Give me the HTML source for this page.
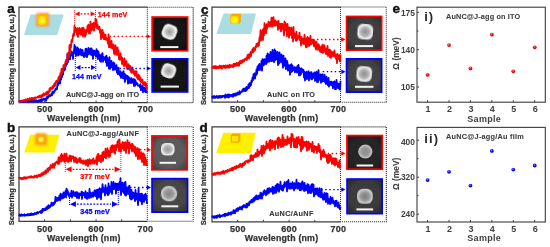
<!DOCTYPE html>
<html><head><meta charset="utf-8"><style>
html,body{margin:0;padding:0;background:#fff;width:550px;height:247px;overflow:hidden}
svg{display:block}
</style></head><body><svg width="550" height="247" viewBox="0 0 550 247" font-family="'Liberation Sans', Arial, sans-serif"><defs>
<filter id="soft" x="-30%" y="-30%" width="160%" height="160%"><feGaussianBlur stdDeviation="0.45"/></filter>
<filter id="glow" x="-50%" y="-50%" width="200%" height="200%"><feGaussianBlur stdDeviation="1.1"/></filter>
<filter id="nz" x="0" y="0" width="100%" height="100%"><feTurbulence type="fractalNoise" baseFrequency="0.9" numOctaves="1" seed="3"/><feColorMatrix type="saturate" values="0"/></filter>
<pattern id="noise" width="40" height="40" patternUnits="userSpaceOnUse"><rect width="40" height="40" filter="url(#nz)"/></pattern>
<radialGradient id="vig" cx="50%" cy="50%" r="70%"><stop offset="0.6" stop-color="#000" stop-opacity="0"/><stop offset="1" stop-color="#000" stop-opacity="0.35"/></radialGradient>
<radialGradient id="ybl"><stop offset="0" stop-color="#ffff40"/><stop offset="0.55" stop-color="#ffee20"/><stop offset="1" stop-color="#ffd020" stop-opacity="0"/></radialGradient>
<radialGradient id="dr" cx="40%" cy="35%" r="65%"><stop offset="0" stop-color="#ff9090"/><stop offset="0.45" stop-color="#ff1010"/><stop offset="1" stop-color="#d00000"/></radialGradient>
<radialGradient id="db" cx="40%" cy="35%" r="65%"><stop offset="0" stop-color="#9090ff"/><stop offset="0.45" stop-color="#1010ff"/><stop offset="1" stop-color="#0000c8"/></radialGradient>
<radialGradient id="cubeY" cx="50%" cy="55%" r="60%"><stop offset="0" stop-color="#ffff30"/><stop offset="0.5" stop-color="#fff000"/><stop offset="1" stop-color="#ffc000"/></radialGradient>
</defs><polyline points="147.3,7.2 19,7.2 19,102.6 147.3,102.6" fill="none" stroke="#3c3c3c" stroke-width="1.25"/><polyline points="147.3,7.2 193.2,7.2 193.2,102.6 147.3,102.6" fill="none" stroke="#333" stroke-width="1.1" stroke-dasharray="1.1 0.9"/><line x1="147.3" y1="7.2" x2="147.3" y2="102.6" stroke="#333" stroke-width="1.0" stroke-dasharray="1.1 0.9"/><line x1="44.6" y1="102.6" x2="44.6" y2="100.6" stroke="#3c3c3c" stroke-width="1"/><line x1="70.4" y1="102.6" x2="70.4" y2="100.6" stroke="#3c3c3c" stroke-width="1"/><line x1="96.1" y1="102.6" x2="96.1" y2="100.6" stroke="#3c3c3c" stroke-width="1"/><line x1="121.7" y1="102.6" x2="121.7" y2="100.6" stroke="#3c3c3c" stroke-width="1"/><polyline points="340.5,7.0 212,7.0 212,102.2 340.5,102.2" fill="none" stroke="#3c3c3c" stroke-width="1.25"/><polyline points="340.5,7.0 386.3,7.0 386.3,102.2 340.5,102.2" fill="none" stroke="#333" stroke-width="1.1" stroke-dasharray="1.1 0.9"/><line x1="340.5" y1="7.0" x2="340.5" y2="102.2" stroke="#333" stroke-width="1.0" stroke-dasharray="1.1 0.9"/><line x1="237.6" y1="102.2" x2="237.6" y2="100.2" stroke="#3c3c3c" stroke-width="1"/><line x1="263.4" y1="102.2" x2="263.4" y2="100.2" stroke="#3c3c3c" stroke-width="1"/><line x1="289.1" y1="102.2" x2="289.1" y2="100.2" stroke="#3c3c3c" stroke-width="1"/><line x1="314.8" y1="102.2" x2="314.8" y2="100.2" stroke="#3c3c3c" stroke-width="1"/><polyline points="147.3,126.8 19,126.8 19,221.3 147.3,221.3" fill="none" stroke="#3c3c3c" stroke-width="1.25"/><polyline points="147.3,126.8 193.2,126.8 193.2,221.3 147.3,221.3" fill="none" stroke="#333" stroke-width="1.1" stroke-dasharray="1.1 0.9"/><line x1="147.3" y1="126.8" x2="147.3" y2="221.3" stroke="#333" stroke-width="1.0" stroke-dasharray="1.1 0.9"/><line x1="44.6" y1="221.3" x2="44.6" y2="219.3" stroke="#3c3c3c" stroke-width="1"/><line x1="70.4" y1="221.3" x2="70.4" y2="219.3" stroke="#3c3c3c" stroke-width="1"/><line x1="96.1" y1="221.3" x2="96.1" y2="219.3" stroke="#3c3c3c" stroke-width="1"/><line x1="121.7" y1="221.3" x2="121.7" y2="219.3" stroke="#3c3c3c" stroke-width="1"/><polyline points="340.5,126.9 212,126.9 212,221.8 340.5,221.8" fill="none" stroke="#3c3c3c" stroke-width="1.25"/><polyline points="340.5,126.9 386.3,126.9 386.3,221.8 340.5,221.8" fill="none" stroke="#333" stroke-width="1.1" stroke-dasharray="1.1 0.9"/><line x1="340.5" y1="126.9" x2="340.5" y2="221.8" stroke="#333" stroke-width="1.0" stroke-dasharray="1.1 0.9"/><line x1="237.6" y1="221.8" x2="237.6" y2="219.8" stroke="#3c3c3c" stroke-width="1"/><line x1="263.4" y1="221.8" x2="263.4" y2="219.8" stroke="#3c3c3c" stroke-width="1"/><line x1="289.1" y1="221.8" x2="289.1" y2="219.8" stroke="#3c3c3c" stroke-width="1"/><line x1="314.8" y1="221.8" x2="314.8" y2="219.8" stroke="#3c3c3c" stroke-width="1"/><polygon points="30.6,14.4 63.6,14.4 57.2,35 24,35" fill="#a9dde1"/><rect x="35.6" y="12.6" width="14.2" height="14.4" rx="2.5" fill="#ff9a50" opacity="0.8" filter="url(#glow)"/><polygon points="38.3,15.8 40.3,13.6 48,13.6 48,22.5 46,24.6 38.3,24.6" fill="#ffb000"/><rect x="38.3" y="15.8" width="7.7" height="8.8" fill="url(#cubeY)"/><polygon points="223.6,13.5 256,13.5 250.9,34.1 216.3,34.1" fill="#a9dde1"/><polygon points="230.5,15.8 232.5,13.8 240.8,13.8 240.8,22 238.8,24 230.5,24" fill="#f5a800"/><rect x="230.5" y="15.8" width="8.3" height="8.2" fill="url(#cubeY)"/><polygon points="30.2,134.7 59.3,134.7 54.5,152.6 24.2,152.6" fill="#fff000"/><rect x="34.8" y="133.1" width="12.4" height="12.5" rx="2.5" fill="#ff9a28" opacity="0.9" filter="url(#glow)"/><rect x="36.2" y="134.4" width="9.8" height="9.9" rx="1.5" fill="#f7a81a"/><circle cx="41" cy="139.4" r="3.6" fill="url(#ybl)"/><polygon points="223.4,132.8 255.8,132.8 251,153.2 216.1,153.2" fill="#fff000"/><polygon points="230.7,135.2 232.5,133.6 240.4,133.6 240.4,141 238.6,142.7 230.7,142.7" fill="#f5a800"/><rect x="232" y="136" width="6.2" height="5.4" fill="#ffe800"/><path d="M19.00,101.64 L19.50,100.97 L20.00,101.90 L20.50,101.25 L21.00,101.34 L21.50,100.64 L22.00,101.92 L22.50,101.09 L23.00,101.71 L23.50,100.74 L24.00,101.87 L24.50,100.72 L25.00,101.53 L25.50,101.16 L26.00,101.02 L26.50,100.55 L27.00,101.65 L27.50,100.21 L28.00,102.07 L28.50,100.60 L29.00,101.49 L29.50,100.85 L30.00,101.42 L30.50,99.94 L31.00,101.21 L31.50,100.48 L32.00,101.50 L32.50,100.29 L33.00,101.71 L33.50,100.78 L34.00,101.37 L34.50,100.88 L35.00,101.21 L35.50,100.19 L36.00,101.53 L36.50,100.23 L37.00,101.28 L37.50,100.94 L38.00,101.71 L38.50,100.32 L39.00,101.07 L39.50,100.15 L40.00,101.13 L40.50,99.74 L41.00,101.33 L41.50,99.05 L42.00,101.05 L42.50,99.59 L43.00,99.69 L43.50,98.67 L44.00,100.00 L44.50,98.66 L45.00,99.09 L45.50,98.85 L46.00,100.98 L46.50,97.21 L47.00,98.74 L47.50,97.03 L48.00,97.73 L48.50,95.66 L49.00,96.24 L49.50,95.04 L50.00,96.20 L50.50,95.27 L51.00,95.25 L51.50,93.56 L52.00,95.40 L52.50,91.66 L53.00,93.44 L53.50,91.58 L54.00,92.76 L54.50,90.70 L55.00,90.82 L55.50,88.64 L56.00,89.75 L56.50,88.23 L57.00,89.04 L57.50,82.21 L58.00,85.31 L58.50,81.55 L59.00,83.47 L59.50,78.42 L60.00,83.60 L60.50,78.10 L61.00,79.67 L61.50,75.11 L62.00,77.18 L62.50,73.27 L63.00,74.60 L63.50,69.93 L64.00,70.64 L64.50,66.90 L65.00,69.91 L65.50,63.35 L66.00,66.05 L66.50,59.61 L67.00,64.14 L67.50,53.31 L68.00,62.30 L68.50,56.29 L69.00,58.41 L69.50,55.30 L70.00,59.47 L70.50,51.09 L71.00,53.64 L71.50,51.60 L72.00,55.73 L72.50,52.87 L73.00,59.04 L73.50,51.79 L74.00,51.01 L74.50,44.79 L75.00,53.14 L75.50,46.69 L76.00,55.96 L76.50,49.13 L77.00,54.50 L77.50,47.42 L78.00,55.56 L78.50,48.90 L79.00,53.66 L79.50,51.07 L80.00,54.95 L80.50,49.18 L81.00,54.52 L81.50,50.11 L82.00,55.70 L82.50,49.98 L83.00,53.97 L83.50,53.04 L84.00,57.10 L84.50,52.95 L85.00,55.11 L85.50,48.83 L86.00,56.41 L86.50,48.70 L87.00,57.09 L87.50,52.40 L88.00,54.69 L88.50,47.80 L89.00,54.00 L89.50,52.06 L90.00,49.44 L90.50,48.51 L91.00,54.89 L91.50,48.30 L92.00,55.06 L92.50,50.21 L93.00,58.97 L93.50,50.55 L94.00,54.92 L94.50,50.58 L95.00,54.79 L95.50,51.97 L96.00,56.87 L96.50,49.22 L97.00,56.57 L97.50,50.99 L98.00,59.13 L98.50,51.68 L99.00,57.38 L99.50,54.67 L100.00,61.04 L100.50,55.91 L101.00,61.96 L101.50,54.40 L102.00,59.40 L102.50,53.18 L103.00,61.77 L103.50,56.87 L104.00,60.04 L104.50,58.38 L105.00,59.47 L105.50,56.75 L106.00,62.71 L106.50,55.74 L107.00,65.95 L107.50,57.99 L108.00,61.71 L108.50,60.41 L109.00,68.59 L109.50,57.25 L110.00,68.84 L110.50,61.22 L111.00,67.54 L111.50,60.97 L112.00,66.34 L112.50,64.44 L113.00,70.17 L113.50,62.51 L114.00,69.08 L114.50,63.51 L115.00,69.81 L115.50,65.77 L116.00,69.34 L116.50,65.09 L117.00,72.63 L117.50,68.38 L118.00,74.43 L118.50,67.71 L119.00,73.54 L119.50,72.42 L120.00,75.73 L120.50,71.27 L121.00,77.84 L121.50,73.53 L122.00,76.63 L122.50,72.44 L123.00,78.39 L123.50,71.15 L124.00,78.43 L124.50,73.86 L125.00,82.00 L125.50,74.69 L126.00,78.78 L126.50,76.36 L127.00,75.74 L127.50,76.83 L128.00,83.72 L128.50,76.73 L129.00,83.13 L129.50,77.82 L130.00,78.81 L130.50,79.03 L131.00,83.11 L131.50,78.13 L132.00,82.92 L132.50,80.54 L133.00,81.19 L133.50,79.05 L134.00,86.02 L134.50,79.33 L135.00,85.74 L135.50,80.29 L136.00,84.38 L136.50,82.90 L137.00,84.41 L137.50,83.45 L138.00,85.71 L138.50,85.60 L139.00,85.87 L139.50,85.30 L140.00,87.45 L140.50,84.26 L141.00,90.39 L141.50,87.05 L142.00,88.37 L142.50,85.56 L143.00,92.24 L143.50,87.29 L144.00,90.54 L144.50,87.70 L145.00,91.73 L145.50,88.32 L146.00,92.29 L146.50,90.40 L147.00,92.90" fill="none" stroke="#0000ff" stroke-width="1.8" stroke-linejoin="round"/><path d="M19.00,101.80 L19.50,100.95 L20.00,101.53 L20.50,101.32 L21.00,101.78 L21.50,100.78 L22.00,101.18 L22.50,100.54 L23.00,101.01 L23.50,100.19 L24.00,100.75 L24.50,100.28 L25.00,100.68 L25.50,99.33 L26.00,100.79 L26.50,99.83 L27.00,100.93 L27.50,98.77 L28.00,99.85 L28.50,99.33 L29.00,99.86 L29.50,98.18 L30.00,99.81 L30.50,99.21 L31.00,99.17 L31.50,97.81 L32.00,99.39 L32.50,97.93 L33.00,99.55 L33.50,98.43 L34.00,99.42 L34.50,97.56 L35.00,98.96 L35.50,97.38 L36.00,97.67 L36.50,97.59 L37.00,97.65 L37.50,96.79 L38.00,97.48 L38.50,96.33 L39.00,97.43 L39.50,95.71 L40.00,96.92 L40.50,95.61 L41.00,97.49 L41.50,95.28 L42.00,96.92 L42.50,94.76 L43.00,96.03 L43.50,93.48 L44.00,95.65 L44.50,94.62 L45.00,94.79 L45.50,93.10 L46.00,94.69 L46.50,92.16 L47.00,94.85 L47.50,91.53 L48.00,93.97 L48.50,91.35 L49.00,92.20 L49.50,88.56 L50.00,90.97 L50.50,87.61 L51.00,88.94 L51.50,88.29 L52.00,89.09 L52.50,86.19 L53.00,88.19 L53.50,85.51 L54.00,86.64 L54.50,83.37 L55.00,85.76 L55.50,82.02 L56.00,81.80 L56.50,80.70 L57.00,82.23 L57.50,80.34 L58.00,81.27 L58.50,77.23 L59.00,79.15 L59.50,75.85 L60.00,76.59 L60.50,72.80 L61.00,74.92 L61.50,68.79 L62.00,73.50 L62.50,68.75 L63.00,71.12 L63.50,65.22 L64.00,67.97 L64.50,64.76 L65.00,67.27 L65.50,61.43 L66.00,62.47 L66.50,59.88 L67.00,62.22 L67.50,54.21 L68.00,58.34 L68.50,52.72 L69.00,57.71 L69.50,45.08 L70.00,53.35 L70.50,44.48 L71.00,47.32 L71.50,40.23 L72.00,42.03 L72.50,39.61 L73.00,35.56 L73.50,33.35 L74.00,35.80 L74.50,25.81 L75.00,31.56 L75.50,27.90 L76.00,32.09 L76.50,29.13 L77.00,34.97 L77.50,28.11 L78.00,36.86 L78.50,29.22 L79.00,33.93 L79.50,27.87 L80.00,33.76 L80.50,31.10 L81.00,34.98 L81.50,28.51 L82.00,33.97 L82.50,27.91 L83.00,36.56 L83.50,27.70 L84.00,33.79 L84.50,29.52 L85.00,36.73 L85.50,30.96 L86.00,34.59 L86.50,29.47 L87.00,31.98 L87.50,25.80 L88.00,31.62 L88.50,24.56 L89.00,33.44 L89.50,28.77 L90.00,33.64 L90.50,21.62 L91.00,31.01 L91.50,25.42 L92.00,28.30 L92.50,23.82 L93.00,30.03 L93.50,22.91 L94.00,30.56 L94.50,24.60 L95.00,27.40 L95.50,18.66 L96.00,24.18 L96.50,19.91 L97.00,28.27 L97.50,24.59 L98.00,27.29 L98.50,29.12 L99.00,29.34 L99.50,27.00 L100.00,32.80 L100.50,30.01 L101.00,39.08 L101.50,30.35 L102.00,37.76 L102.50,29.82 L103.00,37.33 L103.50,32.75 L104.00,39.39 L104.50,34.57 L105.00,39.02 L105.50,34.66 L106.00,39.95 L106.50,38.21 L107.00,40.15 L107.50,39.01 L108.00,43.90 L108.50,34.50 L109.00,47.19 L109.50,37.86 L110.00,47.14 L110.50,42.81 L111.00,47.93 L111.50,40.92 L112.00,45.67 L112.50,48.59 L113.00,48.00 L113.50,44.30 L114.00,53.54 L114.50,47.50 L115.00,54.44 L115.50,45.45 L116.00,50.06 L116.50,47.82 L117.00,54.99 L117.50,47.32 L118.00,54.72 L118.50,50.46 L119.00,59.23 L119.50,55.98 L120.00,59.80 L120.50,53.24 L121.00,59.16 L121.50,57.21 L122.00,63.89 L122.50,58.16 L123.00,64.39 L123.50,60.23 L124.00,66.19 L124.50,58.42 L125.00,65.48 L125.50,61.26 L126.00,65.86 L126.50,61.15 L127.00,68.73 L127.50,64.62 L128.00,69.28 L128.50,64.17 L129.00,68.64 L129.50,65.55 L130.00,70.32 L130.50,66.05 L131.00,72.08 L131.50,68.61 L132.00,73.00 L132.50,67.50 L133.00,71.51 L133.50,69.97 L134.00,74.24 L134.50,72.72 L135.00,75.89 L135.50,71.03 L136.00,75.07 L136.50,71.28 L137.00,77.75 L137.50,76.68 L138.00,79.28 L138.50,74.66 L139.00,79.34 L139.50,75.97 L140.00,80.78 L140.50,77.59 L141.00,82.24 L141.50,79.70 L142.00,81.62 L142.50,79.65 L143.00,84.08 L143.50,83.00 L144.00,85.10 L144.50,82.22 L145.00,85.24 L145.50,82.33 L146.00,87.50 L146.50,84.16 L147.00,88.98" fill="none" stroke="#ff0000" stroke-width="1.8" stroke-linejoin="round"/><path d="M212.00,97.75 L212.50,96.33 L213.00,98.12 L213.50,96.32 L214.00,97.56 L214.50,96.04 L215.00,97.99 L215.50,97.09 L216.00,97.57 L216.50,96.01 L217.00,97.00 L217.50,96.36 L218.00,98.08 L218.50,96.22 L219.00,97.53 L219.50,96.00 L220.00,97.57 L220.50,95.95 L221.00,97.63 L221.50,96.10 L222.00,97.28 L222.50,95.84 L223.00,96.80 L223.50,95.94 L224.00,96.09 L224.50,95.68 L225.00,97.78 L225.50,94.53 L226.00,96.64 L226.50,96.04 L227.00,97.06 L227.50,94.66 L228.00,97.45 L228.50,94.39 L229.00,97.24 L229.50,94.69 L230.00,95.78 L230.50,94.99 L231.00,96.36 L231.50,94.94 L232.00,95.77 L232.50,94.43 L233.00,96.90 L233.50,94.03 L234.00,95.77 L234.50,93.76 L235.00,95.57 L235.50,93.47 L236.00,95.47 L236.50,93.70 L237.00,94.82 L237.50,92.49 L238.00,94.37 L238.50,92.82 L239.00,94.49 L239.50,91.19 L240.00,93.85 L240.50,92.75 L241.00,91.83 L241.50,91.85 L242.00,91.68 L242.50,89.75 L243.00,91.40 L243.50,88.72 L244.00,90.48 L244.50,88.71 L245.00,91.21 L245.50,88.19 L246.00,90.93 L246.50,86.91 L247.00,89.94 L247.50,87.19 L248.00,88.26 L248.50,84.36 L249.00,88.10 L249.50,83.25 L250.00,86.29 L250.50,82.98 L251.00,85.19 L251.50,80.30 L252.00,81.84 L252.50,77.43 L253.00,80.16 L253.50,74.42 L254.00,78.42 L254.50,73.33 L255.00,78.60 L255.50,73.22 L256.00,75.29 L256.50,69.42 L257.00,73.99 L257.50,66.61 L258.00,70.26 L258.50,65.12 L259.00,69.75 L259.50,63.84 L260.00,70.01 L260.50,65.87 L261.00,68.70 L261.50,60.92 L262.00,70.65 L262.50,59.04 L263.00,65.67 L263.50,59.58 L264.00,64.98 L264.50,59.12 L265.00,60.40 L265.50,60.11 L266.00,64.26 L266.50,55.88 L267.00,62.74 L267.50,53.36 L268.00,56.59 L268.50,54.30 L269.00,61.94 L269.50,55.88 L270.00,58.27 L270.50,51.90 L271.00,61.21 L271.50,53.09 L272.00,61.19 L272.50,50.02 L273.00,59.38 L273.50,55.02 L274.00,62.11 L274.50,49.37 L275.00,60.39 L275.50,50.92 L276.00,59.67 L276.50,53.74 L277.00,58.85 L277.50,51.84 L278.00,65.09 L278.50,55.59 L279.00,63.59 L279.50,52.37 L280.00,59.28 L280.50,56.52 L281.00,62.31 L281.50,54.29 L282.00,62.44 L282.50,56.29 L283.00,67.74 L283.50,55.68 L284.00,63.07 L284.50,61.17 L285.00,66.06 L285.50,58.47 L286.00,69.18 L286.50,63.65 L287.00,60.92 L287.50,63.10 L288.00,70.71 L288.50,65.43 L289.00,69.25 L289.50,65.19 L290.00,74.67 L290.50,65.16 L291.00,72.15 L291.50,64.05 L292.00,71.61 L292.50,65.60 L293.00,68.45 L293.50,70.08 L294.00,70.67 L294.50,67.25 L295.00,72.32 L295.50,69.05 L296.00,67.44 L296.50,69.17 L297.00,72.61 L297.50,66.01 L298.00,72.14 L298.50,64.93 L299.00,75.41 L299.50,67.86 L300.00,75.46 L300.50,68.96 L301.00,74.19 L301.50,68.34 L302.00,71.99 L302.50,69.41 L303.00,70.49 L303.50,69.87 L304.00,77.53 L304.50,71.87 L305.00,80.55 L305.50,73.10 L306.00,75.94 L306.50,71.71 L307.00,79.08 L307.50,73.14 L308.00,75.56 L308.50,71.13 L309.00,80.56 L309.50,72.90 L310.00,77.32 L310.50,72.39 L311.00,78.85 L311.50,72.03 L312.00,79.46 L312.50,74.50 L313.00,78.03 L313.50,73.48 L314.00,76.39 L314.50,72.29 L315.00,80.88 L315.50,73.42 L316.00,79.77 L316.50,71.73 L317.00,81.84 L317.50,73.00 L318.00,82.12 L318.50,70.13 L319.00,79.43 L319.50,76.99 L320.00,80.22 L320.50,74.30 L321.00,82.78 L321.50,74.80 L322.00,81.79 L322.50,74.20 L323.00,81.06 L323.50,76.98 L324.00,81.00 L324.50,74.56 L325.00,82.22 L325.50,80.28 L326.00,84.23 L326.50,76.66 L327.00,83.09 L327.50,80.51 L328.00,85.30 L328.50,77.98 L329.00,86.72 L329.50,81.82 L330.00,81.87 L330.50,81.75 L331.00,85.09 L331.50,81.76 L332.00,85.57 L332.50,82.75 L333.00,88.30 L333.50,81.99 L334.00,86.31 L334.50,81.35 L335.00,89.19 L335.50,84.88 L336.00,89.13 L336.50,79.78 L337.00,86.25 L337.50,83.04 L338.00,88.19 L338.50,83.89 L339.00,88.77 L339.50,84.10 L340.00,89.65 L340.50,80.76" fill="none" stroke="#0000ff" stroke-width="1.8" stroke-linejoin="round"/><path d="M212.00,68.35 L212.50,67.09 L213.00,67.79 L213.50,66.36 L214.00,68.24 L214.50,66.28 L215.00,67.99 L215.50,66.24 L216.00,68.51 L216.50,66.41 L217.00,67.74 L217.50,67.39 L218.00,68.17 L218.50,66.57 L219.00,68.14 L219.50,65.66 L220.00,67.55 L220.50,66.09 L221.00,68.14 L221.50,65.96 L222.00,68.57 L222.50,66.65 L223.00,67.41 L223.50,65.65 L224.00,67.20 L224.50,65.89 L225.00,68.12 L225.50,65.46 L226.00,66.66 L226.50,66.09 L227.00,67.74 L227.50,65.39 L228.00,67.01 L228.50,65.85 L229.00,67.93 L229.50,64.54 L230.00,66.92 L230.50,65.35 L231.00,66.96 L231.50,65.11 L232.00,66.31 L232.50,65.47 L233.00,67.27 L233.50,63.80 L234.00,65.96 L234.50,63.69 L235.00,66.15 L235.50,64.01 L236.00,64.74 L236.50,62.96 L237.00,65.77 L237.50,63.15 L238.00,65.11 L238.50,62.93 L239.00,65.93 L239.50,61.47 L240.00,63.49 L240.50,60.87 L241.00,63.59 L241.50,60.84 L242.00,62.67 L242.50,60.13 L243.00,61.77 L243.50,59.82 L244.00,61.34 L244.50,59.08 L245.00,60.05 L245.50,58.57 L246.00,59.83 L246.50,57.56 L247.00,59.96 L247.50,55.18 L248.00,57.76 L248.50,54.50 L249.00,58.60 L249.50,54.41 L250.00,56.80 L250.50,52.06 L251.00,56.10 L251.50,51.15 L252.00,51.91 L252.50,49.26 L253.00,52.54 L253.50,48.00 L254.00,51.01 L254.50,48.91 L255.00,50.25 L255.50,46.40 L256.00,47.38 L256.50,43.80 L257.00,45.88 L257.50,43.71 L258.00,46.40 L258.50,42.11 L259.00,45.17 L259.50,37.20 L260.00,40.66 L260.50,30.14 L261.00,40.61 L261.50,33.53 L262.00,37.33 L262.50,30.07 L263.00,40.08 L263.50,28.54 L264.00,35.35 L264.50,23.24 L265.00,32.17 L265.50,27.73 L266.00,33.41 L266.50,24.09 L267.00,28.91 L267.50,24.48 L268.00,26.91 L268.50,21.58 L269.00,24.42 L269.50,22.69 L270.00,26.56 L270.50,21.86 L271.00,24.04 L271.50,17.55 L272.00,26.70 L272.50,18.74 L273.00,26.32 L273.50,17.09 L274.00,24.28 L274.50,21.05 L275.00,25.97 L275.50,20.34 L276.00,25.41 L276.50,22.10 L277.00,25.17 L277.50,21.75 L278.00,29.79 L278.50,20.86 L279.00,28.57 L279.50,23.58 L280.00,24.77 L280.50,24.02 L281.00,31.46 L281.50,23.57 L282.00,28.63 L282.50,23.99 L283.00,29.66 L283.50,28.84 L284.00,35.50 L284.50,21.49 L285.00,28.59 L285.50,22.99 L286.00,30.71 L286.50,25.01 L287.00,36.22 L287.50,23.86 L288.00,32.78 L288.50,27.35 L289.00,37.68 L289.50,27.53 L290.00,33.64 L290.50,27.89 L291.00,35.09 L291.50,27.63 L292.00,38.01 L292.50,32.37 L293.00,41.34 L293.50,26.92 L294.00,38.18 L294.50,33.46 L295.00,37.02 L295.50,36.97 L296.00,40.89 L296.50,31.63 L297.00,40.26 L297.50,37.18 L298.00,38.68 L298.50,35.87 L299.00,38.29 L299.50,32.67 L300.00,40.39 L300.50,36.97 L301.00,45.49 L301.50,36.87 L302.00,40.72 L302.50,39.89 L303.00,43.70 L303.50,38.31 L304.00,44.30 L304.50,34.77 L305.00,41.78 L305.50,40.63 L306.00,47.36 L306.50,38.48 L307.00,46.92 L307.50,36.95 L308.00,43.23 L308.50,38.12 L309.00,46.01 L309.50,38.11 L310.00,44.73 L310.50,35.92 L311.00,44.32 L311.50,40.17 L312.00,43.30 L312.50,39.68 L313.00,43.38 L313.50,41.40 L314.00,46.38 L314.50,40.51 L315.00,46.19 L315.50,46.46 L316.00,49.62 L316.50,41.55 L317.00,47.49 L317.50,44.97 L318.00,50.03 L318.50,44.14 L319.00,45.52 L319.50,46.12 L320.00,51.68 L320.50,48.08 L321.00,52.07 L321.50,46.51 L322.00,52.20 L322.50,44.72 L323.00,53.01 L323.50,45.37 L324.00,51.82 L324.50,45.50 L325.00,51.61 L325.50,48.20 L326.00,54.30 L326.50,50.07 L327.00,52.37 L327.50,46.02 L328.00,56.02 L328.50,49.76 L329.00,55.72 L329.50,49.77 L330.00,57.17 L330.50,50.51 L331.00,57.82 L331.50,51.74 L332.00,52.08 L332.50,52.61 L333.00,56.33 L333.50,52.08 L334.00,55.91 L334.50,50.52 L335.00,56.97 L335.50,54.29 L336.00,58.81 L336.50,54.72 L337.00,63.09 L337.50,53.79 L338.00,56.58 L338.50,55.53 L339.00,59.29 L339.50,55.26 L340.00,61.63 L340.50,54.41" fill="none" stroke="#ff0000" stroke-width="1.8" stroke-linejoin="round"/><path d="M19.00,215.97 L19.50,214.74 L20.00,215.81 L20.50,214.72 L21.00,215.89 L21.50,214.25 L22.00,215.55 L22.50,215.02 L23.00,215.57 L23.50,214.98 L24.00,215.50 L24.50,214.29 L25.00,215.76 L25.50,214.95 L26.00,215.34 L26.50,214.74 L27.00,215.24 L27.50,214.14 L28.00,215.31 L28.50,214.11 L29.00,215.31 L29.50,214.26 L30.00,215.14 L30.50,213.63 L31.00,215.17 L31.50,213.41 L32.00,214.87 L32.50,214.05 L33.00,214.90 L33.50,213.82 L34.00,214.66 L34.50,213.05 L35.00,213.87 L35.50,213.10 L36.00,214.16 L36.50,212.74 L37.00,213.58 L37.50,212.01 L38.00,213.29 L38.50,212.40 L39.00,212.45 L39.50,211.70 L40.00,211.90 L40.50,211.28 L41.00,213.06 L41.50,210.34 L42.00,212.57 L42.50,208.89 L43.00,210.97 L43.50,209.04 L44.00,210.47 L44.50,208.60 L45.00,210.11 L45.50,208.39 L46.00,209.96 L46.50,207.23 L47.00,209.33 L47.50,206.34 L48.00,208.04 L48.50,205.06 L49.00,208.06 L49.50,205.84 L50.00,207.16 L50.50,205.32 L51.00,205.21 L51.50,202.55 L52.00,205.83 L52.50,203.04 L53.00,205.19 L53.50,202.81 L54.00,204.34 L54.50,201.87 L55.00,202.99 L55.50,196.79 L56.00,201.23 L56.50,198.65 L57.00,200.81 L57.50,197.69 L58.00,200.44 L58.50,198.24 L59.00,198.28 L59.50,195.72 L60.00,200.51 L60.50,193.55 L61.00,198.56 L61.50,195.06 L62.00,198.61 L62.50,194.07 L63.00,198.15 L63.50,192.50 L64.00,197.72 L64.50,193.85 L65.00,194.49 L65.50,190.84 L66.00,197.48 L66.50,188.55 L67.00,193.26 L67.50,190.16 L68.00,194.88 L68.50,192.30 L69.00,196.08 L69.50,196.96 L70.00,195.00 L70.50,193.74 L71.00,196.04 L71.50,190.62 L72.00,197.55 L72.50,193.39 L73.00,195.57 L73.50,191.27 L74.00,195.72 L74.50,194.14 L75.00,196.11 L75.50,192.31 L76.00,196.14 L76.50,192.17 L77.00,198.09 L77.50,192.49 L78.00,197.14 L78.50,193.71 L79.00,198.32 L79.50,193.33 L80.00,195.47 L80.50,193.92 L81.00,195.19 L81.50,191.73 L82.00,198.85 L82.50,192.09 L83.00,195.71 L83.50,192.99 L84.00,194.95 L84.50,193.22 L85.00,197.72 L85.50,191.17 L86.00,197.85 L86.50,193.54 L87.00,199.03 L87.50,193.02 L88.00,197.10 L88.50,193.41 L89.00,198.23 L89.50,189.00 L90.00,196.45 L90.50,192.61 L91.00,197.62 L91.50,194.64 L92.00,193.97 L92.50,192.46 L93.00,196.84 L93.50,193.40 L94.00,196.04 L94.50,190.47 L95.00,194.92 L95.50,190.72 L96.00,196.46 L96.50,190.12 L97.00,199.06 L97.50,189.58 L98.00,196.04 L98.50,189.58 L99.00,197.72 L99.50,188.27 L100.00,193.84 L100.50,189.68 L101.00,199.28 L101.50,188.28 L102.00,192.50 L102.50,184.03 L103.00,188.23 L103.50,188.11 L104.00,192.46 L104.50,188.13 L105.00,195.50 L105.50,185.21 L106.00,193.75 L106.50,189.99 L107.00,191.17 L107.50,187.56 L108.00,195.30 L108.50,183.29 L109.00,193.89 L109.50,186.40 L110.00,192.18 L110.50,187.67 L111.00,188.36 L111.50,182.00 L112.00,193.88 L112.50,185.83 L113.00,189.36 L113.50,181.89 L114.00,189.08 L114.50,183.97 L115.00,188.20 L115.50,183.28 L116.00,193.65 L116.50,184.27 L117.00,190.01 L117.50,183.61 L118.00,190.14 L118.50,184.60 L119.00,185.92 L119.50,182.02 L120.00,189.86 L120.50,178.12 L121.00,195.01 L121.50,182.96 L122.00,184.95 L122.50,182.73 L123.00,191.80 L123.50,185.59 L124.00,193.11 L124.50,182.64 L125.00,194.97 L125.50,181.96 L126.00,195.62 L126.50,187.19 L127.00,193.46 L127.50,193.74 L128.00,192.18 L128.50,186.58 L129.00,194.30 L129.50,185.65 L130.00,198.44 L130.50,189.36 L131.00,199.42 L131.50,189.78 L132.00,199.27 L132.50,192.51 L133.00,197.95 L133.50,192.71 L134.00,196.55 L134.50,197.05 L135.00,201.10 L135.50,189.94 L136.00,199.24 L136.50,193.41 L137.00,199.67 L137.50,195.29 L138.00,205.01 L138.50,188.38 L139.00,199.25 L139.50,196.40 L140.00,200.57 L140.50,193.93 L141.00,201.45 L141.50,193.70 L142.00,204.25 L142.50,194.37 L143.00,199.75 L143.50,197.65 L144.00,202.01 L144.50,195.02 L145.00,199.73 L145.50,193.75 L146.00,199.95 L146.50,195.40 L147.00,203.94" fill="none" stroke="#0000ff" stroke-width="1.8" stroke-linejoin="round"/><path d="M19.00,178.69 L19.50,177.49 L20.00,178.51 L20.50,177.83 L21.00,178.81 L21.50,177.97 L22.00,179.41 L22.50,177.84 L23.00,179.09 L23.50,177.54 L24.00,178.62 L24.50,177.15 L25.00,178.58 L25.50,177.37 L26.00,178.62 L26.50,177.34 L27.00,178.25 L27.50,177.19 L28.00,177.29 L28.50,177.10 L29.00,177.59 L29.50,176.59 L30.00,177.54 L30.50,176.40 L31.00,177.45 L31.50,176.26 L32.00,177.25 L32.50,176.89 L33.00,177.56 L33.50,176.93 L34.00,177.60 L34.50,175.72 L35.00,176.86 L35.50,176.30 L36.00,176.84 L36.50,175.48 L37.00,177.65 L37.50,175.62 L38.00,176.14 L38.50,174.95 L39.00,176.26 L39.50,174.84 L40.00,176.17 L40.50,174.62 L41.00,176.02 L41.50,173.20 L42.00,175.21 L42.50,173.78 L43.00,174.77 L43.50,172.10 L44.00,173.94 L44.50,172.26 L45.00,173.79 L45.50,170.41 L46.00,173.25 L46.50,170.61 L47.00,171.96 L47.50,168.57 L48.00,171.74 L48.50,167.95 L49.00,170.18 L49.50,167.75 L50.00,169.60 L50.50,165.25 L51.00,167.35 L51.50,166.46 L52.00,167.84 L52.50,163.92 L53.00,167.16 L53.50,164.40 L54.00,167.94 L54.50,163.52 L55.00,165.19 L55.50,162.86 L56.00,162.36 L56.50,161.52 L57.00,162.81 L57.50,161.68 L58.00,163.95 L58.50,157.51 L59.00,163.93 L59.50,158.28 L60.00,158.89 L60.50,155.56 L61.00,161.75 L61.50,154.00 L62.00,160.89 L62.50,155.04 L63.00,158.63 L63.50,156.94 L64.00,161.41 L64.50,153.72 L65.00,162.00 L65.50,155.18 L66.00,159.91 L66.50,153.63 L67.00,160.98 L67.50,157.76 L68.00,162.07 L68.50,158.30 L69.00,161.46 L69.50,155.58 L70.00,160.05 L70.50,155.54 L71.00,161.52 L71.50,156.36 L72.00,158.15 L72.50,156.47 L73.00,158.18 L73.50,156.51 L74.00,162.02 L74.50,158.47 L75.00,161.41 L75.50,157.31 L76.00,162.19 L76.50,158.45 L77.00,163.07 L77.50,159.58 L78.00,159.50 L78.50,159.37 L79.00,161.74 L79.50,157.82 L80.00,162.12 L80.50,158.28 L81.00,163.03 L81.50,160.69 L82.00,161.14 L82.50,161.17 L83.00,163.89 L83.50,160.49 L84.00,162.48 L84.50,161.57 L85.00,163.90 L85.50,160.51 L86.00,165.06 L86.50,161.93 L87.00,162.84 L87.50,159.76 L88.00,166.16 L88.50,161.82 L89.00,160.87 L89.50,159.18 L90.00,164.02 L90.50,160.44 L91.00,162.42 L91.50,160.41 L92.00,163.76 L92.50,159.29 L93.00,160.71 L93.50,158.51 L94.00,163.94 L94.50,160.79 L95.00,162.82 L95.50,160.48 L96.00,161.64 L96.50,156.81 L97.00,164.58 L97.50,154.49 L98.00,158.78 L98.50,153.99 L99.00,161.15 L99.50,158.84 L100.00,158.33 L100.50,155.55 L101.00,162.13 L101.50,155.10 L102.00,158.08 L102.50,152.66 L103.00,160.98 L103.50,151.65 L104.00,157.18 L104.50,153.69 L105.00,157.09 L105.50,148.74 L106.00,158.47 L106.50,151.46 L107.00,156.10 L107.50,148.18 L108.00,155.63 L108.50,150.62 L109.00,157.29 L109.50,151.59 L110.00,156.12 L110.50,147.72 L111.00,152.11 L111.50,145.86 L112.00,152.18 L112.50,145.16 L113.00,148.64 L113.50,146.17 L114.00,152.28 L114.50,145.62 L115.00,153.63 L115.50,145.06 L116.00,150.43 L116.50,144.88 L117.00,147.53 L117.50,141.59 L118.00,146.36 L118.50,140.26 L119.00,151.10 L119.50,139.42 L120.00,148.09 L120.50,145.02 L121.00,151.81 L121.50,144.06 L122.00,148.69 L122.50,142.21 L123.00,145.61 L123.50,142.67 L124.00,150.55 L124.50,142.59 L125.00,143.87 L125.50,142.25 L126.00,152.87 L126.50,144.49 L127.00,147.34 L127.50,140.12 L128.00,148.62 L128.50,143.25 L129.00,153.38 L129.50,142.77 L130.00,147.33 L130.50,144.84 L131.00,148.59 L131.50,144.21 L132.00,151.56 L132.50,143.87 L133.00,148.49 L133.50,145.76 L134.00,151.93 L134.50,147.00 L135.00,153.51 L135.50,147.26 L136.00,156.19 L136.50,151.80 L137.00,155.32 L137.50,148.10 L138.00,159.28 L138.50,149.16 L139.00,154.76 L139.50,149.26 L140.00,158.89 L140.50,157.70 L141.00,156.72 L141.50,152.27 L142.00,161.86 L142.50,154.29 L143.00,161.92 L143.50,153.39 L144.00,164.98 L144.50,154.89 L145.00,164.68 L145.50,157.75 L146.00,165.00 L146.50,160.16 L147.00,166.03" fill="none" stroke="#ff0000" stroke-width="1.8" stroke-linejoin="round"/><path d="M212.00,217.46 L212.50,216.18 L213.00,217.10 L213.50,216.57 L214.00,218.05 L214.50,216.05 L215.00,217.21 L215.50,216.22 L216.00,217.82 L216.50,215.84 L217.00,217.70 L217.50,215.37 L218.00,216.48 L218.50,216.06 L219.00,216.64 L219.50,214.70 L220.00,217.37 L220.50,215.89 L221.00,216.23 L221.50,215.70 L222.00,216.26 L222.50,215.07 L223.00,215.92 L223.50,214.82 L224.00,215.45 L224.50,213.83 L225.00,216.23 L225.50,213.73 L226.00,215.27 L226.50,214.10 L227.00,215.22 L227.50,213.65 L228.00,215.22 L228.50,212.65 L229.00,213.43 L229.50,213.16 L230.00,214.49 L230.50,212.46 L231.00,214.62 L231.50,212.11 L232.00,213.06 L232.50,212.14 L233.00,213.37 L233.50,210.08 L234.00,212.62 L234.50,210.39 L235.00,213.36 L235.50,210.32 L236.00,211.48 L236.50,209.00 L237.00,210.83 L237.50,208.22 L238.00,210.77 L238.50,208.41 L239.00,208.97 L239.50,207.29 L240.00,209.41 L240.50,207.24 L241.00,208.10 L241.50,206.88 L242.00,209.66 L242.50,206.17 L243.00,207.31 L243.50,205.05 L244.00,206.88 L244.50,205.24 L245.00,207.10 L245.50,205.53 L246.00,207.52 L246.50,203.95 L247.00,207.36 L247.50,203.69 L248.00,205.53 L248.50,203.07 L249.00,205.44 L249.50,201.58 L250.00,202.54 L250.50,201.18 L251.00,202.73 L251.50,199.84 L252.00,202.43 L252.50,199.47 L253.00,201.91 L253.50,198.21 L254.00,201.40 L254.50,197.43 L255.00,200.18 L255.50,196.24 L256.00,198.85 L256.50,195.42 L257.00,199.31 L257.50,197.53 L258.00,199.42 L258.50,195.56 L259.00,197.57 L259.50,195.37 L260.00,198.69 L260.50,192.53 L261.00,197.40 L261.50,193.32 L262.00,198.55 L262.50,194.40 L263.00,195.23 L263.50,191.34 L264.00,194.23 L264.50,190.23 L265.00,193.12 L265.50,191.49 L266.00,195.38 L266.50,190.74 L267.00,194.02 L267.50,188.58 L268.00,193.71 L268.50,188.41 L269.00,192.91 L269.50,188.24 L270.00,191.03 L270.50,189.23 L271.00,191.93 L271.50,188.76 L272.00,191.16 L272.50,186.91 L273.00,193.81 L273.50,187.09 L274.00,193.29 L274.50,190.47 L275.00,191.72 L275.50,185.94 L276.00,192.84 L276.50,184.77 L277.00,190.99 L277.50,183.88 L278.00,190.44 L278.50,184.59 L279.00,191.77 L279.50,185.34 L280.00,188.12 L280.50,181.73 L281.00,189.23 L281.50,186.17 L282.00,190.36 L282.50,185.86 L283.00,190.73 L283.50,184.86 L284.00,187.91 L284.50,182.26 L285.00,186.03 L285.50,186.04 L286.00,186.59 L286.50,181.85 L287.00,191.46 L287.50,181.34 L288.00,187.94 L288.50,179.94 L289.00,188.44 L289.50,185.02 L290.00,188.89 L290.50,183.33 L291.00,186.99 L291.50,183.61 L292.00,188.64 L292.50,182.05 L293.00,187.78 L293.50,183.71 L294.00,190.45 L294.50,183.14 L295.00,188.29 L295.50,184.74 L296.00,188.30 L296.50,179.53 L297.00,187.25 L297.50,185.10 L298.00,188.89 L298.50,182.81 L299.00,186.09 L299.50,183.57 L300.00,190.39 L300.50,184.12 L301.00,190.03 L301.50,182.75 L302.00,189.49 L302.50,181.39 L303.00,186.62 L303.50,186.87 L304.00,190.78 L304.50,182.95 L305.00,190.92 L305.50,185.41 L306.00,190.23 L306.50,185.83 L307.00,188.68 L307.50,184.13 L308.00,193.26 L308.50,184.61 L309.00,191.55 L309.50,188.83 L310.00,192.93 L310.50,186.20 L311.00,193.12 L311.50,184.37 L312.00,188.42 L312.50,184.06 L313.00,191.92 L313.50,184.61 L314.00,196.42 L314.50,190.87 L315.00,193.89 L315.50,188.69 L316.00,194.48 L316.50,188.51 L317.00,192.87 L317.50,188.46 L318.00,195.46 L318.50,190.67 L319.00,196.36 L319.50,188.23 L320.00,196.58 L320.50,192.60 L321.00,197.41 L321.50,188.64 L322.00,197.41 L322.50,193.90 L323.00,199.78 L323.50,195.09 L324.00,198.86 L324.50,192.88 L325.00,199.73 L325.50,194.03 L326.00,202.12 L326.50,193.15 L327.00,200.16 L327.50,193.92 L328.00,203.73 L328.50,198.68 L329.00,200.61 L329.50,199.62 L330.00,204.09 L330.50,196.93 L331.00,203.40 L331.50,199.55 L332.00,201.91 L332.50,197.62 L333.00,203.19 L333.50,200.83 L334.00,203.76 L334.50,203.89 L335.00,206.37 L335.50,200.96 L336.00,202.85 L336.50,200.63 L337.00,206.28 L337.50,205.30 L338.00,207.23 L338.50,202.49 L339.00,207.88 L339.50,205.38 L340.00,209.46 L340.50,206.72" fill="none" stroke="#0000ff" stroke-width="1.8" stroke-linejoin="round"/><path d="M212.00,174.68 L212.50,173.60 L213.00,175.10 L213.50,173.96 L214.00,174.02 L214.50,172.99 L215.00,174.91 L215.50,173.17 L216.00,173.93 L216.50,173.03 L217.00,173.59 L217.50,172.44 L218.00,173.98 L218.50,172.46 L219.00,173.53 L219.50,172.77 L220.00,173.98 L220.50,172.55 L221.00,173.74 L221.50,171.81 L222.00,173.34 L222.50,171.48 L223.00,173.42 L223.50,171.00 L224.00,173.74 L224.50,172.00 L225.00,172.55 L225.50,170.89 L226.00,171.37 L226.50,170.83 L227.00,172.20 L227.50,169.92 L228.00,170.61 L228.50,170.33 L229.00,171.41 L229.50,169.19 L230.00,170.29 L230.50,169.15 L231.00,170.27 L231.50,168.26 L232.00,170.04 L232.50,167.66 L233.00,170.08 L233.50,168.69 L234.00,168.39 L234.50,166.77 L235.00,168.94 L235.50,167.19 L236.00,168.57 L236.50,165.73 L237.00,167.95 L237.50,167.45 L238.00,167.14 L238.50,165.59 L239.00,167.29 L239.50,164.30 L240.00,165.99 L240.50,163.82 L241.00,166.54 L241.50,164.46 L242.00,167.08 L242.50,163.74 L243.00,165.50 L243.50,163.08 L244.00,165.05 L244.50,162.10 L245.00,163.81 L245.50,161.27 L246.00,162.02 L246.50,161.12 L247.00,161.33 L247.50,160.36 L248.00,162.67 L248.50,160.36 L249.00,161.43 L249.50,160.19 L250.00,161.25 L250.50,155.77 L251.00,160.44 L251.50,155.13 L252.00,159.61 L252.50,157.68 L253.00,160.40 L253.50,155.34 L254.00,156.48 L254.50,155.50 L255.00,157.10 L255.50,153.21 L256.00,156.77 L256.50,154.30 L257.00,156.40 L257.50,149.31 L258.00,156.10 L258.50,151.89 L259.00,155.20 L259.50,152.28 L260.00,151.75 L260.50,150.27 L261.00,153.56 L261.50,145.93 L262.00,156.04 L262.50,148.16 L263.00,152.81 L263.50,145.29 L264.00,153.40 L264.50,147.09 L265.00,150.76 L265.50,146.16 L266.00,148.81 L266.50,141.64 L267.00,148.45 L267.50,143.95 L268.00,148.14 L268.50,143.89 L269.00,145.14 L269.50,140.83 L270.00,150.51 L270.50,139.89 L271.00,145.59 L271.50,141.27 L272.00,148.40 L272.50,140.56 L273.00,147.24 L273.50,142.40 L274.00,146.10 L274.50,141.39 L275.00,149.30 L275.50,141.14 L276.00,141.29 L276.50,142.34 L277.00,143.87 L277.50,138.47 L278.00,148.10 L278.50,137.45 L279.00,143.70 L279.50,138.39 L280.00,145.64 L280.50,139.98 L281.00,147.10 L281.50,140.99 L282.00,142.56 L282.50,134.84 L283.00,146.65 L283.50,137.56 L284.00,145.53 L284.50,140.63 L285.00,144.36 L285.50,139.68 L286.00,144.88 L286.50,141.11 L287.00,144.68 L287.50,136.47 L288.00,143.67 L288.50,139.58 L289.00,142.53 L289.50,138.63 L290.00,143.50 L290.50,137.60 L291.00,147.30 L291.50,133.88 L292.00,141.18 L292.50,134.36 L293.00,139.92 L293.50,139.37 L294.00,146.93 L294.50,138.95 L295.00,147.17 L295.50,139.92 L296.00,147.41 L296.50,137.43 L297.00,147.54 L297.50,139.61 L298.00,143.61 L298.50,136.91 L299.00,142.27 L299.50,140.03 L300.00,145.55 L300.50,139.62 L301.00,151.32 L301.50,136.85 L302.00,149.14 L302.50,137.17 L303.00,148.10 L303.50,141.33 L304.00,145.18 L304.50,142.19 L305.00,146.14 L305.50,142.04 L306.00,147.02 L306.50,141.48 L307.00,150.72 L307.50,142.71 L308.00,147.73 L308.50,141.76 L309.00,149.92 L309.50,143.34 L310.00,146.99 L310.50,143.56 L311.00,147.84 L311.50,146.15 L312.00,151.65 L312.50,141.91 L313.00,150.94 L313.50,149.05 L314.00,152.54 L314.50,145.95 L315.00,150.13 L315.50,146.58 L316.00,148.96 L316.50,146.61 L317.00,153.04 L317.50,147.04 L318.00,150.63 L318.50,143.91 L319.00,151.11 L319.50,145.72 L320.00,152.42 L320.50,149.95 L321.00,159.56 L321.50,152.01 L322.00,153.72 L322.50,151.36 L323.00,156.48 L323.50,149.75 L324.00,156.86 L324.50,151.98 L325.00,155.97 L325.50,154.50 L326.00,157.36 L326.50,155.06 L327.00,161.72 L327.50,155.12 L328.00,163.11 L328.50,155.12 L329.00,162.41 L329.50,155.02 L330.00,160.67 L330.50,154.85 L331.00,160.82 L331.50,157.34 L332.00,163.93 L332.50,158.64 L333.00,162.59 L333.50,158.40 L334.00,164.31 L334.50,158.31 L335.00,165.53 L335.50,158.52 L336.00,164.19 L336.50,159.20 L337.00,164.31 L337.50,162.72 L338.00,167.19 L338.50,162.78 L339.00,164.96 L339.50,160.33 L340.00,167.98 L340.50,167.94" fill="none" stroke="#ff0000" stroke-width="1.8" stroke-linejoin="round"/><line x1="74.7" y1="10.2" x2="74.7" y2="30" stroke="#ff0000" stroke-width="1" stroke-dasharray="1 1"/><line x1="95.5" y1="10.2" x2="95.5" y2="24" stroke="#ff0000" stroke-width="1" stroke-dasharray="1 1"/><polygon points="74.90,13.90 79.70,11.50 79.70,16.30" fill="#ff0000"/><polygon points="95.40,13.90 90.60,11.50 90.60,16.30" fill="#ff0000"/><line x1="80.7" y1="13.9" x2="89.60000000000001" y2="13.9" stroke="#ff0000" stroke-width="1.3" stroke-dasharray="1.8 1.5"/><text x="97.8" y="16.9" font-size="7.1" fill="#ff0000" text-anchor="start" font-weight="bold" stroke="#ff0000" stroke-width="0.25" letter-spacing="0.12" >144 meV</text><line x1="75.3" y1="54" x2="75.3" y2="71" stroke="#0000ff" stroke-width="1" stroke-dasharray="1 1"/><line x1="95.8" y1="52" x2="95.8" y2="71" stroke="#0000ff" stroke-width="1" stroke-dasharray="1 1"/><polygon points="75.70,67.60 80.50,65.10 80.50,70.10" fill="#0000ff"/><polygon points="95.80,67.60 91.00,65.10 91.00,70.10" fill="#0000ff"/><line x1="81.5" y1="67.6" x2="90.0" y2="67.6" stroke="#0000ff" stroke-width="1.3" stroke-dasharray="1.8 1.5"/><text x="86.8" y="78.7" font-size="7.1" fill="#0000ff" text-anchor="middle" font-weight="bold" stroke="#0000ff" stroke-width="0.25" letter-spacing="0.15" >144 meV</text><line x1="109.5" y1="36.4" x2="148" y2="36.4" stroke="#ff0000" stroke-width="1.3" stroke-dasharray="1.5 2.5"/><polygon points="151.00,36.40 146.80,34.20 146.80,38.60" fill="#ff0000"/><line x1="119.4" y1="68.5" x2="148" y2="68.5" stroke="#0000ff" stroke-width="1.3" stroke-dasharray="1.5 2.5"/><polygon points="151.00,68.50 146.80,66.30 146.80,70.70" fill="#0000ff"/><line x1="65.3" y1="157" x2="65.3" y2="172" stroke="#ff0000" stroke-width="1" stroke-dasharray="1 1"/><line x1="120.9" y1="147" x2="120.9" y2="172" stroke="#ff0000" stroke-width="1" stroke-dasharray="1 1"/><polygon points="65.60,169.30 71.60,166.40 71.60,172.20" fill="#ff0000"/><polygon points="120.60,169.30 114.60,166.40 114.60,172.20" fill="#ff0000"/><line x1="72.6" y1="169.3" x2="113.6" y2="169.3" stroke="#ff0000" stroke-width="1.3" stroke-dasharray="1.8 1.5"/><text x="95.0" y="179.2" font-size="7.1" fill="#ff0000" text-anchor="middle" font-weight="bold" stroke="#ff0000" stroke-width="0.25" letter-spacing="0.1" >377 meV</text><line x1="69.6" y1="194" x2="69.6" y2="206" stroke="#0000ff" stroke-width="1" stroke-dasharray="1 1"/><line x1="118.3" y1="186" x2="118.3" y2="206" stroke="#0000ff" stroke-width="1" stroke-dasharray="1 1"/><polygon points="69.90,204.20 75.90,201.30 75.90,207.10" fill="#0000ff"/><polygon points="118.00,204.20 112.00,201.30 112.00,207.10" fill="#0000ff"/><line x1="76.9" y1="204.2" x2="111.0" y2="204.2" stroke="#0000ff" stroke-width="1.3" stroke-dasharray="1.8 1.5"/><text x="95.1" y="214.2" font-size="7.1" fill="#0000ff" text-anchor="middle" font-weight="bold" stroke="#0000ff" stroke-width="0.25" letter-spacing="0.1" >345 meV</text><line x1="136" y1="149.7" x2="148" y2="149.7" stroke="#ff0000" stroke-width="1.3" stroke-dasharray="1.5 2.5"/><polygon points="151.00,149.70 146.80,147.50 146.80,151.90" fill="#ff0000"/><line x1="130" y1="187.5" x2="148" y2="187.5" stroke="#0000ff" stroke-width="1.3" stroke-dasharray="1.5 2.5"/><polygon points="151.00,187.50 146.80,185.30 146.80,189.70" fill="#0000ff"/><line x1="313" y1="39.5" x2="342" y2="39.5" stroke="#ff0000" stroke-width="1.3" stroke-dasharray="1.5 2.5"/><polygon points="345.50,39.50 341.30,37.30 341.30,41.70" fill="#ff0000"/><line x1="322.7" y1="71.7" x2="342" y2="71.7" stroke="#0000ff" stroke-width="1.3" stroke-dasharray="1.5 2.5"/><polygon points="345.50,71.70 341.30,69.50 341.30,73.90" fill="#0000ff"/><line x1="327.7" y1="153.5" x2="342" y2="153.5" stroke="#ff0000" stroke-width="1.3" stroke-dasharray="1.5 2.5"/><polygon points="345.50,153.50 341.30,151.30 341.30,155.70" fill="#ff0000"/><line x1="321.2" y1="189.6" x2="342" y2="189.6" stroke="#0000ff" stroke-width="1.3" stroke-dasharray="1.5 2.5"/><polygon points="345.50,189.60 341.30,187.40 341.30,191.80" fill="#0000ff"/><rect x="152.3" y="17.2" width="35.2" height="33.4" fill="#0b0b0b"/><rect x="152.3" y="17.2" width="35.2" height="33.4" fill="url(#noise)" opacity="0.12"/><rect x="152.3" y="17.2" width="35.2" height="33.4" fill="url(#vig)"/><radialGradient id="g1" cx="50%" cy="50%" r="58%"><stop offset="0" stop-color="#9a9a9a"/><stop offset="0.5" stop-color="#c8c8c8"/><stop offset="0.78" stop-color="#f8f8f8"/><stop offset="1" stop-color="#c8c8c8"/></radialGradient><rect x="162.2" y="24.599999999999998" width="14.6" height="14.6" rx="5" fill="url(#g1)" transform="rotate(22 169.5 31.9)" filter="url(#soft)"/><rect x="160.2" y="46.1" width="18.200000000000017" height="2" fill="#f4f4f4"/><rect x="152.15" y="17.05" width="35.5" height="33.699999999999996" fill="none" stroke="#ff0000" stroke-width="1.7"/><rect x="152.3" y="59.0" width="35.2" height="32.8" fill="#0b0b0b"/><rect x="152.3" y="59.0" width="35.2" height="32.8" fill="url(#noise)" opacity="0.12"/><rect x="152.3" y="59.0" width="35.2" height="32.8" fill="url(#vig)"/><radialGradient id="g2" cx="50%" cy="50%" r="58%"><stop offset="0" stop-color="#9a9a9a"/><stop offset="0.5" stop-color="#c8c8c8"/><stop offset="0.78" stop-color="#f4f4f4"/><stop offset="1" stop-color="#c8c8c8"/></radialGradient><rect x="161.5" y="63.800000000000004" width="14.2" height="14.2" rx="5" fill="url(#g2)" transform="rotate(20 168.6 70.9)" filter="url(#soft)"/><rect x="160.6" y="85.6" width="18.30000000000001" height="2" fill="#f4f4f4"/><rect x="152.15" y="58.85" width="35.5" height="33.099999999999994" fill="none" stroke="#0000ff" stroke-width="1.7"/><rect x="152.1" y="136.1" width="35.0" height="33.6" fill="#555555"/><rect x="152.1" y="136.1" width="35.0" height="33.6" fill="url(#noise)" opacity="0.12"/><rect x="152.1" y="136.1" width="35.0" height="33.6" fill="url(#vig)"/><radialGradient id="g3" cx="50%" cy="50%" r="58%"><stop offset="0" stop-color="#9a9a9a"/><stop offset="0.5" stop-color="#b8b8b8"/><stop offset="0.78" stop-color="#eeeeee"/><stop offset="1" stop-color="#b8b8b8"/></radialGradient><rect x="161.0" y="143.0" width="13.6" height="12.6" rx="4.5" fill="url(#g3)" transform="rotate(0 167.8 149.3)" filter="url(#soft)"/><rect x="159.6" y="161.8" width="16.400000000000006" height="2" fill="#f4f4f4"/><rect x="151.95" y="135.95" width="35.3" height="33.9" fill="none" stroke="#ff0000" stroke-width="1.7"/><rect x="152.2" y="178.8" width="35.2" height="33.2" fill="#404040"/><rect x="152.2" y="178.8" width="35.2" height="33.2" fill="url(#noise)" opacity="0.12"/><rect x="152.2" y="178.8" width="35.2" height="33.2" fill="url(#vig)"/><radialGradient id="g4" cx="50%" cy="50%" r="58%"><stop offset="0" stop-color="#868686"/><stop offset="0.5" stop-color="#9e9e9e"/><stop offset="0.78" stop-color="#cfcfcf"/><stop offset="1" stop-color="#9e9e9e"/></radialGradient><rect x="161.0" y="186.1" width="16" height="15.2" rx="7" fill="url(#g4)" transform="rotate(8 169.0 193.7)" filter="url(#soft)"/><rect x="161.3" y="205.3" width="16.899999999999977" height="2" fill="#f4f4f4"/><rect x="152.04999999999998" y="178.65" width="35.5" height="33.5" fill="none" stroke="#0000ff" stroke-width="1.7"/><rect x="346.7" y="16.6" width="34.8" height="33.4" fill="#383838"/><rect x="346.7" y="16.6" width="34.8" height="33.4" fill="url(#noise)" opacity="0.12"/><rect x="346.7" y="16.6" width="34.8" height="33.4" fill="url(#vig)"/><radialGradient id="g5" cx="50%" cy="50%" r="58%"><stop offset="0" stop-color="#8e8e8e"/><stop offset="0.5" stop-color="#b4b4b4"/><stop offset="0.78" stop-color="#f0f0f0"/><stop offset="1" stop-color="#b4b4b4"/></radialGradient><rect x="357.4" y="24.0" width="15.6" height="15.6" rx="5" fill="url(#g5)" transform="rotate(5 365.2 31.8)" filter="url(#soft)"/><rect x="355" y="45.1" width="18" height="2" fill="#f4f4f4"/><rect x="346.55" y="16.45" width="35.099999999999994" height="33.699999999999996" fill="none" stroke="#ff0000" stroke-width="1.7"/><rect x="346.7" y="59.0" width="34.8" height="33.0" fill="#3a3a3a"/><rect x="346.7" y="59.0" width="34.8" height="33.0" fill="url(#noise)" opacity="0.12"/><rect x="346.7" y="59.0" width="34.8" height="33.0" fill="url(#vig)"/><radialGradient id="g6" cx="50%" cy="50%" r="58%"><stop offset="0" stop-color="#8e8e8e"/><stop offset="0.5" stop-color="#b4b4b4"/><stop offset="0.78" stop-color="#eeeeee"/><stop offset="1" stop-color="#b4b4b4"/></radialGradient><rect x="356.45" y="66.15" width="15.5" height="15.5" rx="5" fill="url(#g6)" transform="rotate(5 364.2 73.9)" filter="url(#soft)"/><rect x="355" y="85.8" width="18.399999999999977" height="2" fill="#f4f4f4"/><rect x="346.55" y="58.85" width="35.099999999999994" height="33.3" fill="none" stroke="#0000ff" stroke-width="1.7"/><rect x="347.1" y="135.7" width="35.0" height="33.4" fill="#1c1c1c"/><rect x="347.1" y="135.7" width="35.0" height="33.4" fill="url(#noise)" opacity="0.12"/><rect x="347.1" y="135.7" width="35.0" height="33.4" fill="url(#vig)"/><radialGradient id="g7" cx="50%" cy="50%" r="58%"><stop offset="0" stop-color="#8c8c8c"/><stop offset="0.5" stop-color="#9a9a9a"/><stop offset="0.78" stop-color="#c0c0c0"/><stop offset="1" stop-color="#9a9a9a"/></radialGradient><rect x="358.15000000000003" y="144.6" width="14.3" height="14" rx="7" fill="url(#g7)" transform="rotate(0 365.3 151.6)" filter="url(#soft)"/><rect x="356.6" y="164.5" width="16.5" height="2" fill="#f4f4f4"/><rect x="346.95000000000005" y="135.54999999999998" width="35.3" height="33.699999999999996" fill="none" stroke="#ff0000" stroke-width="1.7"/><rect x="347.2" y="179.2" width="34.8" height="34.3" fill="#333333"/><rect x="347.2" y="179.2" width="34.8" height="34.3" fill="url(#noise)" opacity="0.12"/><rect x="347.2" y="179.2" width="34.8" height="34.3" fill="url(#vig)"/><radialGradient id="g8" cx="50%" cy="50%" r="58%"><stop offset="0" stop-color="#7c7c7c"/><stop offset="0.5" stop-color="#9a9a9a"/><stop offset="0.78" stop-color="#c8c8c8"/><stop offset="1" stop-color="#9a9a9a"/></radialGradient><rect x="357.04999999999995" y="188.8" width="15.7" height="15" rx="5.5" fill="url(#g8)" transform="rotate(0 364.9 196.3)" filter="url(#soft)"/><rect x="356.4" y="208.4" width="16.700000000000045" height="2" fill="#f4f4f4"/><rect x="347.05" y="179.04999999999998" width="35.099999999999994" height="34.599999999999994" fill="none" stroke="#0000ff" stroke-width="1.7"/><text x="7.2" y="12.6" font-size="13.5" fill="#111" text-anchor="start" font-weight="bold" stroke="#111" stroke-width="0.45" >a</text><text x="7.0" y="132.3" font-size="13.5" fill="#111" text-anchor="start" font-weight="bold" stroke="#111" stroke-width="0.45" >b</text><text x="200.9" y="13.7" font-size="13.5" fill="#111" text-anchor="start" font-weight="bold" stroke="#111" stroke-width="0.45" >c</text><text x="199.6" y="132.1" font-size="13.5" fill="#111" text-anchor="start" font-weight="bold" stroke="#111" stroke-width="0.45" >d</text><text x="392.6" y="12.7" font-size="13.5" fill="#111" text-anchor="start" font-weight="bold" stroke="#111" stroke-width="0.45" >e</text><text x="44.9" y="111.7" font-size="9" fill="#333333" text-anchor="middle" font-weight="bold" stroke="#333333" stroke-width="0.25" letter-spacing="0.3" >500</text><text x="96.1" y="111.7" font-size="9" fill="#333333" text-anchor="middle" font-weight="bold" stroke="#333333" stroke-width="0.25" letter-spacing="0.3" >600</text><text x="145.4" y="111.7" font-size="9" fill="#333333" text-anchor="middle" font-weight="bold" stroke="#333333" stroke-width="0.25" letter-spacing="0.3" >700</text><text x="83.8" y="120.6" font-size="8.8" fill="#333333" text-anchor="middle" font-weight="bold" stroke="#333333" stroke-width="0.25" letter-spacing="0.2" >Wavelength (nm)</text><text x="0" y="0" font-size="7.6" fill="#333333" text-anchor="middle" font-weight="bold" stroke="#333333" stroke-width="0.3" transform="translate(13.5,59.6) rotate(-90)">Scattering intensity (a.u.)</text><text x="237.9" y="111.7" font-size="9" fill="#333333" text-anchor="middle" font-weight="bold" stroke="#333333" stroke-width="0.25" letter-spacing="0.3" >500</text><text x="289.1" y="111.7" font-size="9" fill="#333333" text-anchor="middle" font-weight="bold" stroke="#333333" stroke-width="0.25" letter-spacing="0.3" >600</text><text x="338.4" y="111.7" font-size="9" fill="#333333" text-anchor="middle" font-weight="bold" stroke="#333333" stroke-width="0.25" letter-spacing="0.3" >700</text><text x="281.5" y="120.6" font-size="8.8" fill="#333333" text-anchor="middle" font-weight="bold" stroke="#333333" stroke-width="0.25" letter-spacing="0.2" >Wavelength (nm)</text><text x="0" y="0" font-size="7.6" fill="#333333" text-anchor="middle" font-weight="bold" stroke="#333333" stroke-width="0.3" transform="translate(205.7,59.6) rotate(-90)">Scattering intensity (a.u.)</text><text x="44.9" y="232.0" font-size="9" fill="#333333" text-anchor="middle" font-weight="bold" stroke="#333333" stroke-width="0.25" letter-spacing="0.3" >500</text><text x="96.1" y="232.0" font-size="9" fill="#333333" text-anchor="middle" font-weight="bold" stroke="#333333" stroke-width="0.25" letter-spacing="0.3" >600</text><text x="145.4" y="232.0" font-size="9" fill="#333333" text-anchor="middle" font-weight="bold" stroke="#333333" stroke-width="0.25" letter-spacing="0.3" >700</text><text x="83.8" y="240.89999999999998" font-size="8.8" fill="#333333" text-anchor="middle" font-weight="bold" stroke="#333333" stroke-width="0.25" letter-spacing="0.2" >Wavelength (nm)</text><text x="0" y="0" font-size="7.6" fill="#333333" text-anchor="middle" font-weight="bold" stroke="#333333" stroke-width="0.3" transform="translate(13.5,179.9) rotate(-90)">Scattering intensity (a.u.)</text><text x="237.9" y="232.0" font-size="9" fill="#333333" text-anchor="middle" font-weight="bold" stroke="#333333" stroke-width="0.25" letter-spacing="0.3" >500</text><text x="289.1" y="232.0" font-size="9" fill="#333333" text-anchor="middle" font-weight="bold" stroke="#333333" stroke-width="0.25" letter-spacing="0.3" >600</text><text x="338.4" y="232.0" font-size="9" fill="#333333" text-anchor="middle" font-weight="bold" stroke="#333333" stroke-width="0.25" letter-spacing="0.3" >700</text><text x="281.5" y="240.89999999999998" font-size="8.8" fill="#333333" text-anchor="middle" font-weight="bold" stroke="#333333" stroke-width="0.25" letter-spacing="0.2" >Wavelength (nm)</text><text x="0" y="0" font-size="7.6" fill="#333333" text-anchor="middle" font-weight="bold" stroke="#333333" stroke-width="0.3" transform="translate(205.7,179.9) rotate(-90)">Scattering intensity (a.u.)</text><text x="139.2" y="96.9" font-size="7.3" fill="#3a3a3a" text-anchor="end" font-weight="bold" stroke="#3a3a3a" stroke-width="0.12" letter-spacing="0.08" >AuNC@J-agg on ITO</text><text x="66.6" y="136.3" font-size="7.3" fill="#3a3a3a" text-anchor="start" font-weight="bold" stroke="#3a3a3a" stroke-width="0.12" letter-spacing="0.28" >AuNC@J-agg/AuNF</text><text x="315.3" y="96.9" font-size="7.3" fill="#3a3a3a" text-anchor="end" font-weight="bold" stroke="#3a3a3a" stroke-width="0.12" letter-spacing="0.27" >AuNC on ITO</text><text x="313.7" y="216.3" font-size="7.3" fill="#3a3a3a" text-anchor="end" font-weight="bold" stroke="#3a3a3a" stroke-width="0.12" letter-spacing="0.3" >AuNC/AuNF</text><rect x="417" y="7.2" width="128.29999999999995" height="95.0" fill="none" stroke="#3c3c3c" stroke-width="1.1"/><line x1="427.6" y1="102.2" x2="427.6" y2="100.2" stroke="#3c3c3c" stroke-width="1"/><text x="428.1" y="111.8" font-size="9" fill="#404040" text-anchor="middle" font-weight="bold" >1</text><line x1="449.02000000000004" y1="102.2" x2="449.02000000000004" y2="100.2" stroke="#3c3c3c" stroke-width="1"/><text x="449.52000000000004" y="111.8" font-size="9" fill="#404040" text-anchor="middle" font-weight="bold" >2</text><line x1="470.44000000000005" y1="102.2" x2="470.44000000000005" y2="100.2" stroke="#3c3c3c" stroke-width="1"/><text x="470.94000000000005" y="111.8" font-size="9" fill="#404040" text-anchor="middle" font-weight="bold" >3</text><line x1="491.86" y1="102.2" x2="491.86" y2="100.2" stroke="#3c3c3c" stroke-width="1"/><text x="492.36" y="111.8" font-size="9" fill="#404040" text-anchor="middle" font-weight="bold" >4</text><line x1="513.28" y1="102.2" x2="513.28" y2="100.2" stroke="#3c3c3c" stroke-width="1"/><text x="513.78" y="111.8" font-size="9" fill="#404040" text-anchor="middle" font-weight="bold" >5</text><line x1="534.7" y1="102.2" x2="534.7" y2="100.2" stroke="#3c3c3c" stroke-width="1"/><text x="535.2" y="111.8" font-size="9" fill="#404040" text-anchor="middle" font-weight="bold" >6</text><line x1="417" y1="12.3" x2="419" y2="12.3" stroke="#3c3c3c" stroke-width="1"/><text x="414.9" y="15.9" font-size="8.4" fill="#404040" text-anchor="end" font-weight="bold" >175</text><line x1="417" y1="49.7" x2="419" y2="49.7" stroke="#3c3c3c" stroke-width="1"/><text x="414.9" y="52.7" font-size="8.4" fill="#404040" text-anchor="end" font-weight="bold" >140</text><line x1="417" y1="87.0" x2="419" y2="87.0" stroke="#3c3c3c" stroke-width="1"/><text x="414.9" y="90.0" font-size="8.4" fill="#404040" text-anchor="end" font-weight="bold" >105</text><line x1="417" y1="31" x2="418.5" y2="31" stroke="#3c3c3c" stroke-width="1"/><line x1="417" y1="68.3" x2="418.5" y2="68.3" stroke="#3c3c3c" stroke-width="1"/><circle cx="427.6" cy="74.8" r="1.9" fill="url(#dr)"/><circle cx="449.02000000000004" cy="45.1" r="1.9" fill="url(#dr)"/><circle cx="470.44000000000005" cy="68.4" r="1.9" fill="url(#dr)"/><circle cx="491.86" cy="34.6" r="1.9" fill="url(#dr)"/><circle cx="513.28" cy="71.3" r="1.9" fill="url(#dr)"/><circle cx="534.7" cy="47.3" r="1.9" fill="url(#dr)"/><text x="424.3" y="21.2" font-size="13" fill="#2a2a2a" text-anchor="start" font-weight="bold" letter-spacing="0.8" >i)</text><text x="446" y="18.8" font-size="7.3" fill="#404040" text-anchor="start" font-weight="bold" stroke="#404040" stroke-width="0.08" letter-spacing="0.14" >AuNC@J-agg on ITO</text><text x="484.2" y="121.5" font-size="9" fill="#404040" text-anchor="middle" font-weight="bold" letter-spacing="0.3" >Sample</text><text x="0" y="0" font-size="8.4" fill="#404040" text-anchor="middle" font-weight="bold" stroke="#404040" stroke-width="0.1" transform="translate(398.6,53.5) rotate(-90)">&#937; (meV)</text><rect x="417" y="127.4" width="128.29999999999995" height="94.6" fill="none" stroke="#3c3c3c" stroke-width="1.1"/><line x1="427.6" y1="222" x2="427.6" y2="220" stroke="#3c3c3c" stroke-width="1"/><text x="428.1" y="231.6" font-size="9" fill="#404040" text-anchor="middle" font-weight="bold" >1</text><line x1="449.02000000000004" y1="222" x2="449.02000000000004" y2="220" stroke="#3c3c3c" stroke-width="1"/><text x="449.52000000000004" y="231.6" font-size="9" fill="#404040" text-anchor="middle" font-weight="bold" >2</text><line x1="470.44000000000005" y1="222" x2="470.44000000000005" y2="220" stroke="#3c3c3c" stroke-width="1"/><text x="470.94000000000005" y="231.6" font-size="9" fill="#404040" text-anchor="middle" font-weight="bold" >3</text><line x1="491.86" y1="222" x2="491.86" y2="220" stroke="#3c3c3c" stroke-width="1"/><text x="492.36" y="231.6" font-size="9" fill="#404040" text-anchor="middle" font-weight="bold" >4</text><line x1="513.28" y1="222" x2="513.28" y2="220" stroke="#3c3c3c" stroke-width="1"/><text x="513.78" y="231.6" font-size="9" fill="#404040" text-anchor="middle" font-weight="bold" >5</text><line x1="534.7" y1="222" x2="534.7" y2="220" stroke="#3c3c3c" stroke-width="1"/><text x="535.2" y="231.6" font-size="9" fill="#404040" text-anchor="middle" font-weight="bold" >6</text><line x1="417" y1="140.2" x2="419" y2="140.2" stroke="#3c3c3c" stroke-width="1"/><text x="414.9" y="144.7" font-size="8.4" fill="#404040" text-anchor="end" font-weight="bold" >400</text><line x1="417" y1="177.2" x2="419" y2="177.2" stroke="#3c3c3c" stroke-width="1"/><text x="414.9" y="180.2" font-size="8.4" fill="#404040" text-anchor="end" font-weight="bold" >320</text><line x1="417" y1="214.2" x2="419" y2="214.2" stroke="#3c3c3c" stroke-width="1"/><text x="414.9" y="217.2" font-size="8.4" fill="#404040" text-anchor="end" font-weight="bold" >240</text><line x1="417" y1="158.7" x2="418.5" y2="158.7" stroke="#3c3c3c" stroke-width="1"/><line x1="417" y1="195.7" x2="418.5" y2="195.7" stroke="#3c3c3c" stroke-width="1"/><circle cx="427.6" cy="180.1" r="1.9" fill="url(#db)"/><circle cx="449.02000000000004" cy="171.8" r="1.9" fill="url(#db)"/><circle cx="470.44000000000005" cy="185.6" r="1.9" fill="url(#db)"/><circle cx="491.86" cy="150.9" r="1.9" fill="url(#db)"/><circle cx="513.28" cy="169.6" r="1.9" fill="url(#db)"/><circle cx="534.7" cy="165.5" r="1.9" fill="url(#db)"/><text x="424.3" y="143.0" font-size="13" fill="#2a2a2a" text-anchor="start" font-weight="bold" letter-spacing="1.1" >ii)</text><text x="446" y="139.0" font-size="7.3" fill="#404040" text-anchor="start" font-weight="bold" stroke="#404040" stroke-width="0.08" letter-spacing="0.24" >AuNC@J-agg/Au film</text><text x="484.2" y="241.3" font-size="9" fill="#404040" text-anchor="middle" font-weight="bold" letter-spacing="0.3" >Sample</text><text x="0" y="0" font-size="8.4" fill="#404040" text-anchor="middle" font-weight="bold" stroke="#404040" stroke-width="0.1" transform="translate(398.6,173.8) rotate(-90)">&#937; (meV)</text></svg></body></html>
